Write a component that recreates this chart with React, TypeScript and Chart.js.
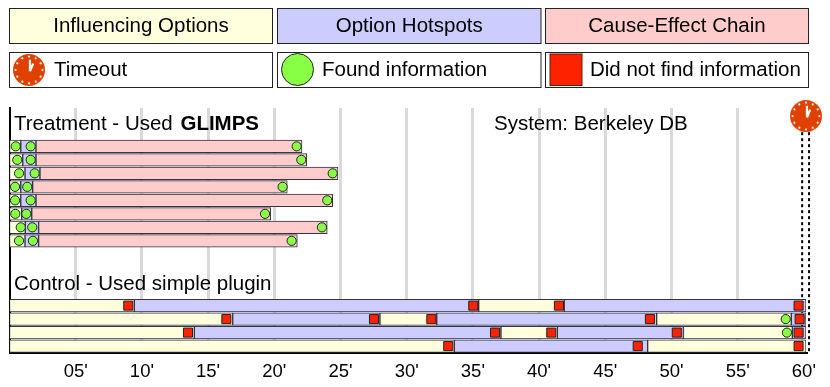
import React, { useEffect, useRef } from "react";
import { Chart, registerables } from "chart.js";

Chart.register(...registerables);

const FONT = '"Liberation Sans", Arial, sans-serif';
const TEXT_SIZE = 20.5;
const YELLOW = "#ffffdd";
const BLUE = "#ccccff";
const PINK = "#ffcccc";
const GREEN = "#88ff44";
const RED = "#ff2200";
const CLOCK = "#e04000";
const EDGE = "#333344";

const tickMinutes = [5, 10, 15, 20, 25, 30, 35, 40, 45, 50, 55, 60];

const treatmentRows = [1, 2, 3, 4, 5, 6, 7, 8];
const treatmentOptionEnd = [0.85, 1.0, 1.17, 0.85, 0.85, 0.92, 1.19, 1.17];
const treatmentHotspotEnd = [2.0, 2.0, 2.3, 1.75, 2.0, 1.68, 2.2, 2.2];
const treatmentChainEnd = [22.09, 22.45, 24.81, 20.98, 24.41, 19.73, 24.0, 21.74];
const treatmentFoundOption = [0.47, 0.59, 0.72, 0.42, 0.42, 0.44, 0.85, 0.72];
const treatmentFoundHotspot = [1.6, 1.6, 1.9, 1.34, 1.6, 1.27, 1.72, 1.77];
const treatmentFoundChain = [21.69, 22.04, 24.41, 20.63, 24.0, 19.3, 23.6, 21.31];

const controlRows = [12.8, 13.8, 14.8, 15.8];
const controlEnd = 60.16;
// Segment boundaries of each control row; colours alternate, starting with yellow.
const controlSegments = [
  [0, 9.43, 35.44, 41.9, controlEnd],
  [0, 16.86, 27.98, 32.27, 48.88, 59.05, controlEnd],
  [0, 13.96, 37.12, 41.38, 50.9, 59.13, controlEnd],
  [0, 33.6, 48.2, controlEnd],
];
const controlNotFound = [
  [8.97, 35.03, 41.5, 59.6],
  [16.38, 27.53, 31.86, 48.37, 59.68],
  [13.48, 36.67, 40.92, 50.4, 59.6],
  [33.14, 47.45, 59.6],
];
const controlFound = [[], [58.63], [58.72], []];

const timeoutMinute = 60.16;
const timeoutLineMinutes = [59.87, 60.39];

const headerLabels = ["Influencing Options", "Option Hotspots", "Cause-Effect Chain"];
const headerColors = [YELLOW, BLUE, PINK];
const keyLabels = ["Timeout", "Found information", "Did not find information"];
const treatmentTitle = "Treatment - Used ";
const treatmentTitleBold = "GLIMPS";
const controlTitle = "Control - Used simple plugin";
const systemTitle = "System: Berkeley DB";

function makeClock(size: number) {
  const c = document.createElement("canvas");
  c.width = size;
  c.height = size;
  const g = c.getContext("2d")!;
  const m = size / 2;
  const r = size / 2;
  g.fillStyle = CLOCK;
  g.beginPath();
  g.arc(m, m, r, 0, Math.PI * 2);
  g.fill();
  g.fillStyle = "#ffffff";
  for (let i = 0; i < 12; i++) {
    const a = (i * Math.PI) / 6;
    g.beginPath();
    g.arc(m + Math.sin(a) * r * 0.84, m - Math.cos(a) * r * 0.84, size * 0.035, 0, Math.PI * 2);
    g.fill();
  }
  g.strokeStyle = "#ffffff";
  g.lineWidth = size * 0.07;
  g.beginPath();
  g.moveTo(m + size * 0.03, m + size * 0.04);
  g.lineTo(m + size * 0.03, m - size * 0.32);
  g.moveTo(m + size * 0.03, m + size * 0.04);
  g.lineTo(m + size * 0.13, m - size * 0.2);
  g.stroke();
  return c;
}

const clockImage = makeClock(32);

const keyPlugin = {
  id: "key",
  beforeDatasetsDraw(chart: any) {
    const g = chart.ctx as CanvasRenderingContext2D;
    g.save();
    g.textBaseline = "middle";
    g.fillStyle = "#000";
    g.textAlign = "left";
    g.font = `${TEXT_SIZE}px ${FONT}`;
    const tx = 14;
    g.fillText(treatmentTitle, tx, 124.6);
    const w = g.measureText(treatmentTitle).width;
    g.font = `bold ${TEXT_SIZE}px ${FONT}`;
    g.fillText(treatmentTitleBold, tx + w + 2, 124.6);
    g.font = `${TEXT_SIZE}px ${FONT}`;
    g.fillText(systemTitle, 494, 124.6);
    g.fillText(controlTitle, 14, 284);
    g.restore();
  },
  afterDraw(chart: any) {
    const g = chart.ctx as CanvasRenderingContext2D;
    const lefts = [9.5, 277.5, 545.5];
    const widths = [263, 263.5, 263];
    g.save();
    g.textBaseline = "middle";
    g.font = `${TEXT_SIZE}px ${FONT}`;
    g.lineWidth = 1;
    g.strokeStyle = "#222222";
    lefts.forEach((l, i) => {
      g.fillStyle = headerColors[i];
      g.fillRect(l, 8.5, widths[i], 35);
      g.strokeRect(l, 8.5, widths[i], 35);
      g.fillStyle = "#000";
      g.textAlign = "center";
      g.fillText(headerLabels[i], l + widths[i] / 2, 26.5);
      g.fillStyle = "#fff";
      g.fillRect(l, 52.5, widths[i], 35);
      g.strokeRect(l, 52.5, widths[i], 35);
    });
    g.textAlign = "left";
    g.fillStyle = "#000";
    g.fillText(keyLabels[0], 54, 70.6);
    g.fillText(keyLabels[1], 322, 70.6);
    g.fillText(keyLabels[2], 590, 70.6);
    g.drawImage(clockImage, 13, 54, 32, 32);
    g.fillStyle = GREEN;
    g.beginPath();
    g.arc(297.5, 69.5, 16, 0, Math.PI * 2);
    g.fill();
    g.stroke();
    g.fillStyle = RED;
    g.fillRect(550, 54, 32, 31.5);
    g.strokeStyle = "#552211";
    g.strokeRect(550, 54, 32, 31.5);
    g.restore();
  },
};

function barSets() {
  const t = (starts: number[], ends: number[]) =>
    treatmentRows.map((y, i) => ({ x: [starts[i], ends[i]], y }));
  const zero = treatmentRows.map(() => 0);
  const yellow: any[] = t(zero, treatmentOptionEnd);
  const blue: any[] = t(treatmentOptionEnd, treatmentHotspotEnd);
  const pink: any[] = t(treatmentHotspotEnd, treatmentChainEnd);
  controlSegments.forEach((seg, r) => {
    for (let i = 0; i + 1 < seg.length; i++) {
      (i % 2 === 0 ? yellow : blue).push({ x: [seg[i], seg[i + 1]], y: controlRows[r] });
    }
  });
  const common = {
    type: "bar",
    indexAxis: "y",
    grouped: false,
    barThickness: 12.5,
    borderWidth: 1,
    borderColor: EDGE,
    borderSkipped: false,
    order: 5,
  };
  return [
    { ...common, label: headerLabels[0], data: yellow, backgroundColor: YELLOW },
    { ...common, label: headerLabels[1], data: blue, backgroundColor: BLUE },
    { ...common, label: headerLabels[2], data: pink, backgroundColor: PINK },
  ];
}

function pointSets() {
  const found = [
    ...treatmentRows.flatMap((y, i) => [
      { x: treatmentFoundOption[i], y },
      { x: treatmentFoundHotspot[i], y },
      { x: treatmentFoundChain[i], y },
    ]),
    ...controlRows.flatMap((y, i) => controlFound[i].map((x) => ({ x, y }))),
  ];
  const notFound = controlRows.flatMap((y, i) => controlNotFound[i].map((x) => ({ x, y })));
  return [
    {
      type: "scatter",
      label: keyLabels[1],
      data: found,
      pointStyle: "circle",
      pointRadius: 4.6,
      backgroundColor: GREEN,
      borderColor: "#222222",
      borderWidth: 1,
      order: 1,
      clip: false,
    },
    {
      type: "scatter",
      label: keyLabels[2],
      data: notFound,
      pointStyle: "rect",
      pointRadius: 6.4,
      backgroundColor: RED,
      borderColor: "#222222",
      borderWidth: 1,
      order: 1,
      clip: false,
    },
    ...timeoutLineMinutes.map((x) => ({
      type: "line",
      label: "timeout line",
      data: [
        { x, y: -0.05 },
        { x, y: 16.31 },
      ],
      borderColor: "#000",
      borderWidth: 2,
      borderDash: [3, 3],
      pointRadius: 0,
      order: 6,
      clip: false,
    })),
    {
      type: "scatter",
      label: keyLabels[0],
      data: [{ x: timeoutMinute, y: -1.24 }],
      pointStyle: clockImage,
      order: 1,
      clip: false,
    },
  ];
}

export default function App() {
  const ref = useRef<HTMLCanvasElement>(null);
  useEffect(() => {
    const chart: any = new Chart(ref.current!, {
      type: "scatter",
      data: { datasets: [...barSets(), ...pointSets()] as any },
      plugins: [keyPlugin as any],
      options: {
        animation: false,
        responsive: false,
        layout: { padding: { left: 9.5, right: 24, top: 108, bottom: 0 } },
        plugins: { legend: { display: false }, tooltip: { enabled: false } },
        scales: {
          x: {
            type: "linear",
            min: 0,
            max: 60.16,
            offset: false,
            afterBuildTicks(scale: any) {
              scale.ticks = tickMinutes.map((value) => ({ value }));
            },
            afterFit(scale: any) {
              scale.height = 34;
            },
            grid: {
              offset: false,
              drawTicks: false,
              lineWidth: 3,
              color: (c: any) => (c.tick && c.tick.value === 60 ? "rgba(0,0,0,0)" : "#d9d9d9"),
            },
            border: { color: "#000", width: 2 },
            ticks: {
              autoSkip: false,
              maxRotation: 0,
              padding: 8,
              color: "#000",
              font: { family: FONT, size: 18.5 },
              callback: (v: any) => `${String(v).padStart(2, "0")}'`,
            },
          },
          y: {
            type: "linear",
            reverse: true,
            min: -1.84,
            max: 16.31,
            offset: false,
            grid: { display: false, drawTicks: false },
            border: { color: "#000", width: 2 },
            ticks: { display: false },
          },
        },
      } as any,
    });
    return () => chart.destroy();
  }, []);
  return (
    <canvas
      ref={ref}
      width={830}
      height={387}
      style={{ position: "fixed", left: 0, top: 0, width: 830, height: 387, display: "block" }}
    />
  );
}
